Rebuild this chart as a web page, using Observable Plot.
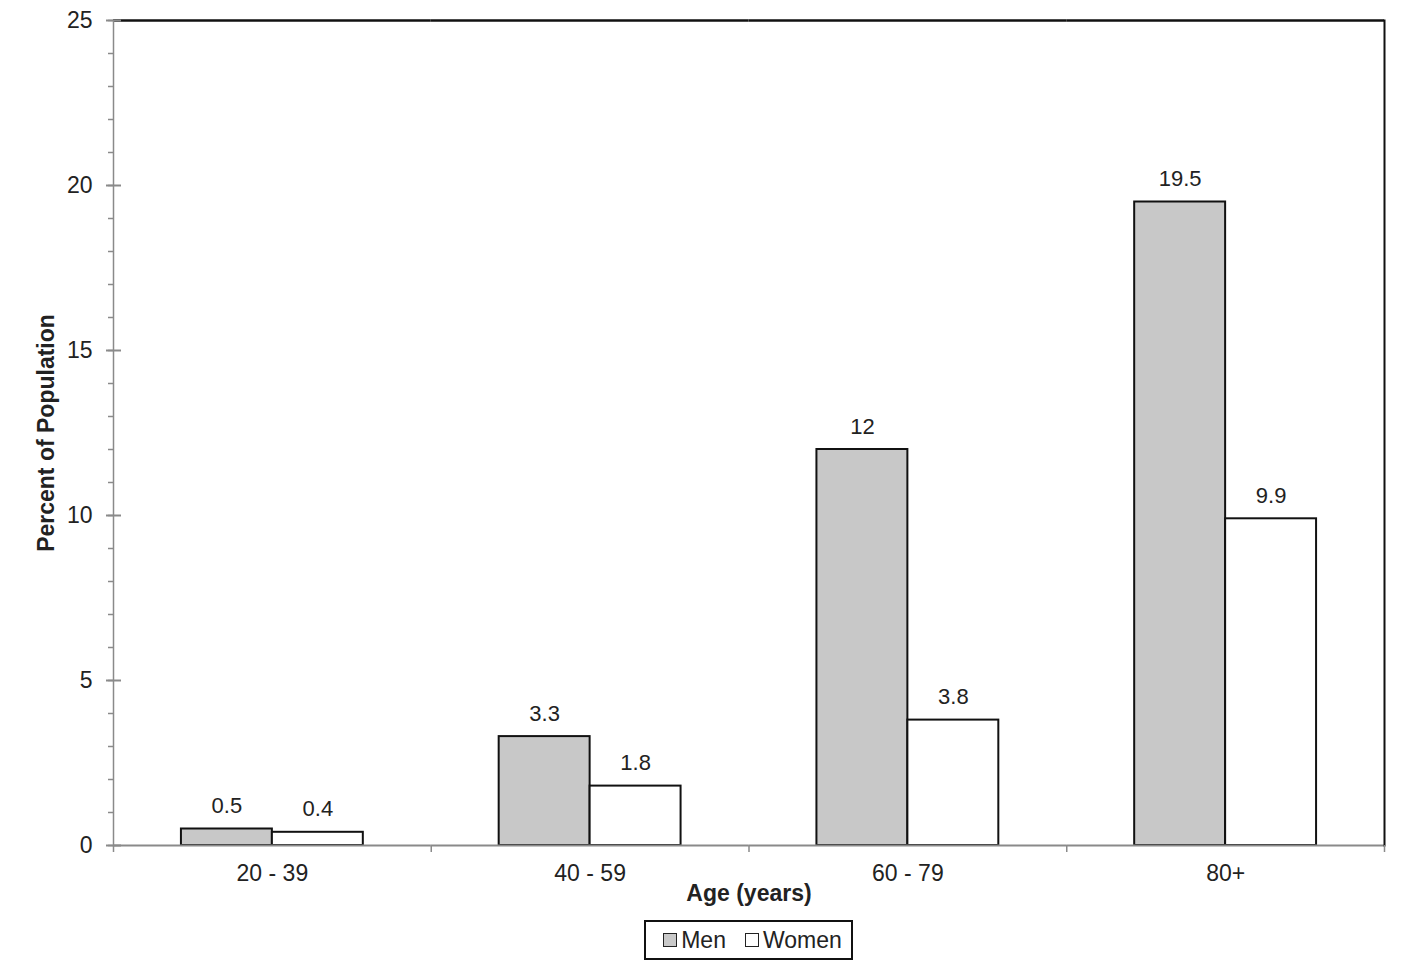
<!DOCTYPE html>
<html>
<head>
<meta charset="utf-8">
<script src="https://cdn.jsdelivr.net/npm/d3@7"></script>
<script src="https://cdn.jsdelivr.net/npm/@observablehq/plot@0.6"></script>
<style>
  body { margin: 0; background: #fff; font-family: "Liberation Sans", Arial, sans-serif; }
  #chart svg { display: block; }
  g[aria-label="fx-axis label"], g[aria-label="y-axis label"] { font-weight: bold; }
  #legend-wrap { box-sizing: border-box; width: 1407px; padding-left: 113px; padding-right: 23px; display: flex; justify-content: center; margin-top: 10px; }
  #legend { border: 2px solid #111; height: 36px; padding: 0 9px 0 17px; display: flex; align-items: center; gap: 19px; font-size: 23px; color: #222; }
  .item { display: flex; align-items: center; gap: 4px; }
  .sw { width: 14px; height: 14px; border: 1.5px solid #222; box-sizing: border-box; }
</style>
</head>
<body>
<div id="chart"></div>
<div id="legend-wrap"><div id="legend"></div></div>
<script>
const categories = ["20 - 39", "40 - 59", "60 - 79", "80+"];
const series = ["Men", "Women"];
const menValues = [0.5, 3.3, 12, 19.5];
const womenValues = [0.4, 1.8, 3.8, 9.9];
const yTicks = [0, 5, 10, 15, 20, 25];
const yMinorTicks = d3.range(0, 26, 1);
const seriesColors = ["#c8c8c8", "#ffffff"];
const xLabel = "Age (years)";
const yLabel = "Percent of Population";

const data = [];
categories.forEach((c, i) => {
  data.push({age: c, sex: series[0], value: menValues[i]});
  data.push({age: c, sex: series[1], value: womenValues[i]});
});

const W = 1407, H = 910, ML = 113, MR = 23, MT = 20, MB = 65;
const step = (W - ML - MR) / categories.length;
const gray = "#8a8a8a";

const chart = Plot.plot({
  width: W,
  height: H,
  marginLeft: ML,
  marginRight: MR,
  marginTop: MT,
  marginBottom: MB,
  style: {fontFamily: "'Liberation Sans', Arial, sans-serif", fontSize: "23px", color: "#222", background: "#fff"},
  fx: {domain: categories, padding: 0, round: false, label: xLabel},
  x: {domain: series, paddingInner: 0, paddingOuter: 0.747, round: false, axis: null},
  y: {domain: [0, 25], label: yLabel},
  color: {domain: series, range: seriesColors},
  marks: [
    Plot.barY(data, {fx: "age", x: "sex", y: "value", fill: "sex", stroke: "#111", strokeWidth: 2}),
    Plot.text(data, {fx: "age", x: "sex", y: "value", text: d => String(d.value), lineAnchor: "bottom", dy: -16, fontSize: 22, fill: "#222"}),
    Plot.ruleY([25], {stroke: "#111", strokeWidth: 2.5}),
    Plot.ruleY([0], {stroke: gray, strokeWidth: 2}),
    Plot.frame({anchor: "left", stroke: gray, strokeWidth: 1.5, facetAnchor: "left"}),
    Plot.frame({anchor: "right", stroke: "#111", strokeWidth: 2, facetAnchor: "right"}),
    Plot.axisY({ticks: yTicks, tickSize: 7, tickPadding: 14, stroke: gray, strokeWidth: 2, fontSize: 23, label: yLabel, labelAnchor: "center", labelArrow: "none", labelOffset: 76, tickFormat: d => String(d)}),
    Plot.axisY({ticks: yTicks, tickSize: 8, dx: 8, stroke: gray, strokeWidth: 2, text: null, label: null}),
    Plot.axisY({ticks: yMinorTicks, tickSize: 5, stroke: gray, strokeWidth: 1.5, text: null, label: null}),
    Plot.axisFx({anchor: "bottom", tickSize: 0, tickPadding: 19, fontSize: 23, label: xLabel, labelAnchor: "center", labelArrow: "none", labelOffset: 55}),
    Plot.axisFx({anchor: "bottom", tickSize: 7, dx: -step / 2, stroke: gray, strokeWidth: 1.5, text: null, label: null}),
    Plot.axisFx({anchor: "bottom", ticks: [categories[categories.length - 1]], tickSize: 7, dx: step / 2, stroke: gray, strokeWidth: 1.5, text: null, label: null})
  ]
});
document.getElementById("chart").appendChild(chart);

const legend = document.getElementById("legend");
series.forEach((s, i) => {
  const item = document.createElement("div");
  item.className = "item";
  const sw = document.createElement("div");
  sw.className = "sw";
  sw.style.background = seriesColors[i];
  const t = document.createElement("span");
  t.textContent = s;
  item.appendChild(sw);
  item.appendChild(t);
  legend.appendChild(item);
});
</script>
</body>
</html>
